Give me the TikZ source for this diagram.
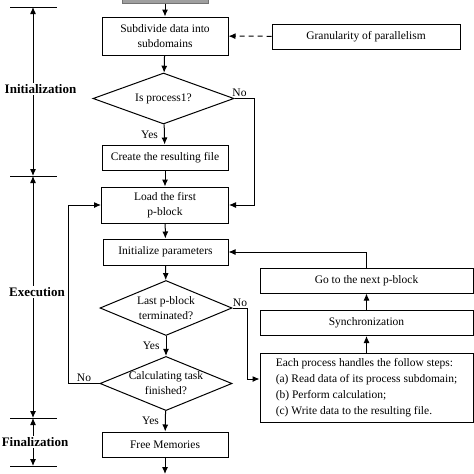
\documentclass[tikz,border=0pt]{standalone}
\usepackage{fontspec}
\setmainfont{Liberation Serif}
\usetikzlibrary{shapes,arrows,arrows.meta,positioning}

\tikzset{
  box/.style={draw, align=center, inner sep=2pt, font=\fontsize{11.5}{15}\selectfont},
  decision/.style={diamond, draw, align=center, aspect=2.4, inner sep=0pt, font=\fontsize{11.5}{15}\selectfont},
  lbl/.style={font=\fontsize{11.5}{14}\selectfont, inner sep=1pt},
  phase/.style={font=\bfseries\fontsize{13}{15}\selectfont, fill=white, inner sep=1pt},
}

\begin{document}
\begin{tikzpicture}[x=1pt, y=-1pt, >={Latex[length=7pt,width=6pt]}, line width=1pt]

                \clip (0,0) rectangle (474,474);

                % Phases
                \coordinate (t0) at (33,7);
                \coordinate (t1) at (33,176);
                \coordinate (t2) at (33,418);
                \coordinate (t3) at (33,466);
                \foreach \t in {t0,t1,t2,t3}
                    \draw ([xshift=-23pt]\t) -- ([xshift=24pt]\t);
                \draw[<->] (t0) -- (t1);
                \draw[<->] (t1) -- (t2);
                \draw[<->] (t2) -- (t3);
                \node[phase] (ini) at (40.5,89) {Initialization};
                \node[phase] (exe) at (37,292) {Execution};
                \node[phase] (fin) at (35,442) {Finalization};

                % Main flow
                \node[box, fill=gray!75, draw=gray!90!black, minimum width=86, minimum height=20] (prev) at (165,-7) {};
                \node[box, minimum width=126, minimum height=38] (sub) at (165,36) {Subdivide data into\\subdomains};
                \node[box, minimum width=188, minimum height=25] (gran) at (366,36.5) {Granularity of parallelism};
                \node[decision, minimum width=141, minimum height=51] (isp) at (163.5,98.5) {Is process1?};
                \node[box, minimum width=126, minimum height=25] (create) at (165,157.5) {Create the resulting file};
                \node[box, minimum width=127, minimum height=36] (load) at (165,205) {Load the first\\p-block};
                \node[box, minimum width=125, minimum height=26] (init) at (165.5,252) {Initialize parameters};
                \node[decision, minimum width=132, minimum height=55] (last) at (166,308) {Last p-block\\terminated?};
                \node[decision, minimum width=132, minimum height=53] (calc) at (166,383.5) {Calculating task\\finished?};
                \node[box, minimum width=126, minimum height=25] (free) at (165,444.5) {Free Memories};
                \coordinate (end) at (165,474);

                % Right column
                \node[box, minimum width=213, minimum height=25] (next) at (366.5,280.5) {Go to the next p-block};
                \node[box, minimum width=213, minimum height=25] (sync) at (366.5,323) {Synchronization};
                \node[box, minimum width=213, minimum height=69, align=left, font=\fontsize{11.5}{16}\selectfont] (each) at (366.5,387.5)
                    {Each process handles the follow steps:\\(a) Read data of its process subdomain;\\(b) Perform calculation;\\(c) Write data to the resulting file.};

                % Connectors
                \draw[->] (prev) -- (sub);
                \draw[->, dash pattern=on 5pt off 4pt] (gran) -- (sub);
                \draw[->] (sub) -- (isp);
                \draw[->] (isp) -- node[lbl, left=5pt] {Yes} (create);
                \draw[->] (isp.east) -- node[lbl, above, pos=0.25] {No} ++(20,0) |- (load.east);
                \draw[->] (create) -- (load);
                \draw[->] (load) -- (init);
                \draw[->] (init) -- (last);
                \draw[->] (last) -- node[lbl, left=5pt] {Yes} (calc);
                \draw[->] (last.east) -- node[lbl, above] {No} ++(15,0) |- ([yshift=8.5pt]each.west);
                \draw[->] (calc) -- node[lbl, left=5pt] {Yes} (free);
                \draw[->] (calc.west) -- node[lbl, above] {No} ++(-31,0) |- (load.west);
                \draw[->] (free) -- (end);
                \draw[->] (each) -- (sync);
                \draw[->] (sync) -- (next);
                \draw[->] (next.north) |- (init.east);

            \end{tikzpicture}
\end{document}
